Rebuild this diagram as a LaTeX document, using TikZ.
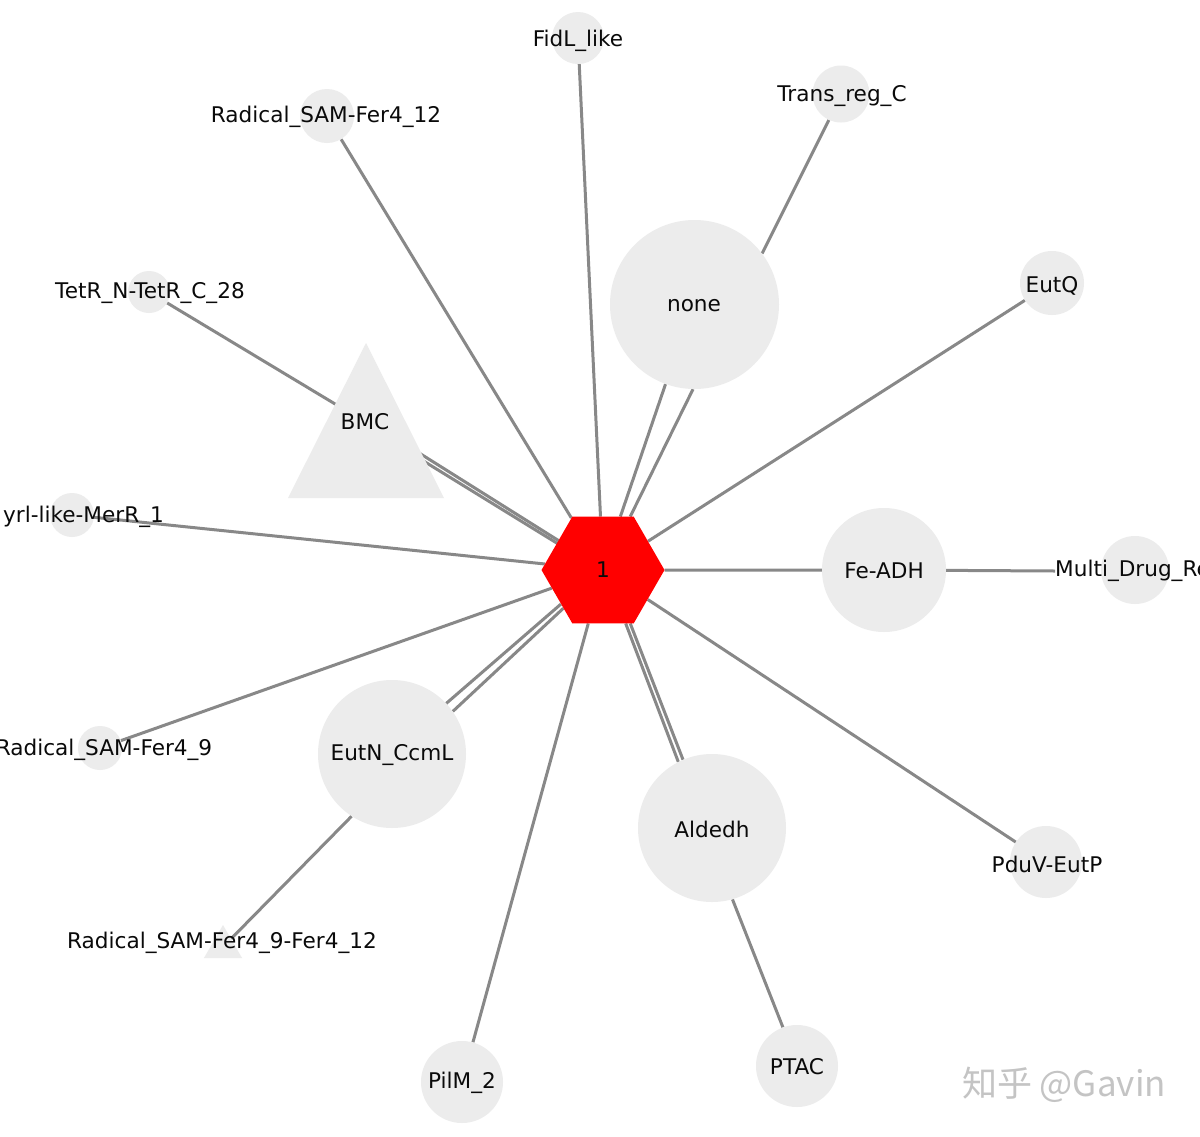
\documentclass[tikz,border=0pt]{standalone}
\usepackage{fontspec}
\setmainfont{DejaVu Sans}
\newfontfamily\cjkfont{Noto Sans CJK SC}
\usetikzlibrary{shapes.geometric}
\definecolor{edgegray}{HTML}{888888}
\definecolor{leafgray}{HTML}{ECECEC}
\definecolor{hubred}{HTML}{FF0000}
\definecolor{wmgray}{HTML}{C4C4C4}
\definecolor{txt}{HTML}{0A0A0A}
\pgfdeclarelayer{bg}
\pgfsetlayers{bg,main}
\begin{document}
\begin{tikzpicture}[x=1pt,y=-1pt,
  leaf/.style={circle, fill=leafgray, draw=none, inner sep=0pt},
  smalltri/.style={regular polygon, regular polygon sides=3, fill=leafgray, draw=none, inner sep=0pt},
  lbl/.style={inner sep=0pt, text=txt, font=\fontsize{21.6pt}{25pt}\selectfont},
  hubnode/.style={regular polygon, regular polygon sides=6, minimum size=123pt, fill=hubred, draw=none, inner sep=0pt, text=txt, font=\fontsize{21.6pt}{25pt}\selectfont},
  link/.style={draw=edgegray, line width=3pt},
  watermark/.style={inner sep=0pt, text=wmgray, font=\cjkfont\fontsize{35pt}{40pt}\selectfont},
]
\useasboundingbox (0,0) rectangle (1200,1136);
\begin{pgfonlayer}{bg}
\fill[white] (0,0) rectangle (1200,1136);
\end{pgfonlayer}
\clip (0,0) rectangle (1200,1136);

% hub
\node[hubnode] (hub) at (603,570) {1};

% leaf shapes
\node[leaf, minimum size=169pt] (none) at (694.5,304.5) {};
\node[leaf, minimum size=52pt] (fidl) at (578,38) {};
\node[leaf, minimum size=57pt] (trans) at (841,94) {};
\node[leaf, minimum size=54pt] (rs12) at (327,116) {};
\node[leaf, minimum size=42pt] (tetr) at (149,292) {};
\node[leaf, minimum size=64pt] (eutq) at (1052,283) {};
\node[leaf, minimum size=124pt] (feadh) at (884,570) {};
\node[leaf, minimum size=68pt] (mdr) at (1135,570) {};
\node[leaf, minimum size=72pt] (pduv) at (1046,862) {};
\node[leaf, minimum size=82pt] (ptac) at (797,1066) {};
\node[leaf, minimum size=82pt] (pilm) at (462,1082) {};
\node[leaf, minimum size=148pt] (aldedh) at (712,828) {};
\node[leaf, minimum size=148pt] (eutn) at (392,754) {};
\node[leaf, minimum size=44pt] (rs9) at (100,748) {};
\node[leaf, minimum size=44pt] (pyrl) at (72,515) {};
\node[smalltri, minimum size=44pt] (rsft) at (223,947) {};
\fill[leafgray] (366,343) -- (444,498) -- (288,498) -- cycle;

% labels
\node[lbl] (none-t) at (694,306) {none};
\node[lbl] (fidl-t) at (578,41) {FidL\_like};
\node[lbl] (trans-t) at (842,96) {Trans\_reg\_C};
\node[lbl] (rs12-t) at (326,117) {Radical\_SAM-Fer4\_12};
\node[lbl] (tetr-t) at (150,293) {TetR\_N-TetR\_C\_28};
\node[lbl] (eutq-t) at (1052,286) {EutQ};
\node[lbl] (bmc) at (365,422) {BMC};
\node[lbl, anchor=east] (pyrl-t) at (164,517) {yrl-like-MerR\_1};
\node[lbl] (feadh-t) at (884,571) {Fe-ADH};
\node[lbl, anchor=west] (mdr-t) at (1055,571) {Multi\_Drug\_Res};
\node[lbl] (rs9-t) at (104,750) {Radical\_SAM-Fer4\_9};
\node[lbl] (eutn-t) at (392,755) {EutN\_CcmL};
\node[lbl] (rsft-t) at (222,943) {Radical\_SAM-Fer4\_9-Fer4\_12};
\node[lbl] (aldedh-t) at (712,829) {Aldedh};
\node[lbl] (pduv-t) at (1047,864) {PduV-EutP};
\node[lbl] (ptac-t) at (797,1067) {PTAC};
\node[lbl] (pilm-t) at (462,1083) {PilM\_2};

\node[watermark] (wm) at (1064,1085) {知乎 @Gavin};

% connectors
\begin{pgfonlayer}{bg}
\draw[link] (hub) -- (fidl);
\draw[link] (hub) -- (rs12);
\draw[link] ([yshift=1.5pt]hub.center) -- ([yshift=3pt]bmc.center);
\draw[link] ([yshift=-1.5pt]hub.center) -- ([yshift=-3pt]bmc.center);
\draw[link] (hub) -- (pyrl);
\draw[link] (hub) -- (rs9);
\draw[link] (hub.219) -- (eutn.43);
\draw[link] (hub.224) -- (eutn.35);
\draw[link] (hub) -- (pilm);
\draw[link] (hub.293) -- (aldedh.117);
\draw[link] (hub.297.5) -- (aldedh.113);
\draw[link] (hub) -- (pduv);
\draw[link] (hub) -- (feadh);
\draw[link] (hub) -- (eutq);
\draw[link] (hub.72) -- (none.250);
\draw[link] (hub.63) -- (none.269);
\draw[link] (none.37) -- (trans.245);
\draw[link] (tetr) -- (bmc.center);
\draw[link] (feadh) -- (mdr-t.west);
\draw[link] (eutn.237) -- (rsft);
\draw[link] (aldedh.286) -- (ptac.110);
\end{pgfonlayer}
\end{tikzpicture}
\end{document}
